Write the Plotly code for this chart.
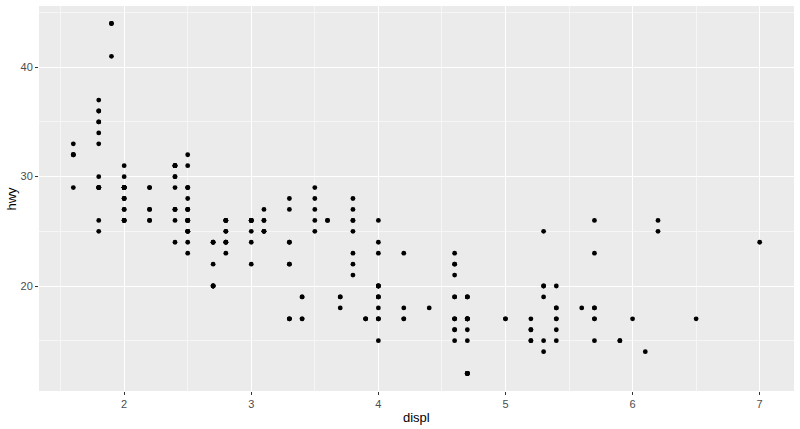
import plotly.graph_objects as go

displ = [1.8,1.8,2.0,2.0,2.8,2.8,3.1,1.8,1.8,2.0,2.0,2.8,2.8,3.1,3.1,2.8,3.1,4.2,
         5.3,5.3,5.3,5.7,6.0,5.7,5.7,6.2,6.2,7.0,5.3,5.3,5.7,6.5,2.4,2.4,3.1,3.5,3.6,
         2.4,3.0,3.3,3.3,3.3,3.3,3.3,3.8,3.8,3.8,4.0,3.7,3.7,3.9,3.9,4.7,4.7,4.7,5.2,5.2,
         3.9,4.7,4.7,4.7,5.2,5.9,4.7,4.7,4.7,4.7,4.7,4.7,5.2,5.2,5.7,5.9,
         4.6,4.6,5.4,4.0,4.0,4.0,4.0,4.6,5.0,4.2,4.2,4.6,4.6,4.6,5.4,5.4,
         3.8,3.8,4.0,4.0,4.6,4.6,4.6,4.6,5.4,
         1.6,1.6,1.6,1.6,1.6,1.8,1.8,1.8,2.0,
         2.4,2.4,2.4,2.4,2.5,2.5,3.3,2.0,2.0,2.0,2.0,2.7,2.7,2.7,
         3.0,3.7,4.0,4.7,4.7,4.7,5.7,6.1,4.0,4.2,4.4,4.6,5.4,5.4,5.4,4.0,4.0,4.6,5.0,
         2.4,2.4,2.5,2.5,3.5,3.5,3.0,3.0,3.5,3.3,3.3,4.0,5.6,3.1,3.8,3.8,3.8,5.3,
         2.5,2.5,2.5,2.5,2.5,2.5,2.2,2.2,2.5,2.5,2.5,2.5,2.5,2.5,
         2.7,2.7,3.4,3.4,4.0,4.7,2.2,2.2,2.4,2.4,3.0,3.0,3.5,2.2,2.2,2.4,2.4,3.0,3.0,3.3,
         1.8,1.8,1.8,1.8,1.8,4.7,5.7,2.7,2.7,2.7,3.4,3.4,4.0,4.0,
         2.0,2.0,2.0,2.0,2.8,1.9,2.0,2.0,2.0,2.0,2.5,2.5,2.8,2.8,1.9,1.9,2.0,2.0,2.5,2.5,
         1.8,1.8,1.8,2.0,2.0,2.8,2.8,3.6]
hwy = [29,29,31,30,26,26,27,26,25,28,27,25,25,25,25,24,25,23,
       20,15,20,17,17,26,23,26,25,24,19,14,15,17,27,30,26,29,26,
       24,24,22,22,24,24,17,22,21,23,23,19,18,17,17,19,19,12,17,15,
       17,17,12,17,16,15,16,12,17,17,12,17,15,16,17,15,
       17,17,18,17,19,17,19,19,17,17,17,16,16,17,15,17,
       26,25,26,24,21,22,23,22,20,
       33,32,32,29,32,34,36,36,29,
       26,27,30,31,26,26,28,26,29,28,27,24,24,24,
       22,19,20,17,12,19,18,14,15,18,18,15,17,16,18,17,19,19,17,
       29,27,31,32,27,26,26,25,25,17,17,20,18,26,26,27,28,25,
       25,24,27,25,26,23,26,26,26,26,27,25,27,25,
       20,20,19,17,20,17,29,27,31,31,26,26,28,27,29,31,31,26,26,27,
       30,33,35,37,35,15,18,20,20,22,17,19,18,20,
       29,26,29,29,24,44,29,26,29,29,29,29,23,24,44,41,29,26,28,29,
       29,29,29,29,28,26,26,26]

x_ticks = [2, 3, 4, 5, 6, 7]
y_ticks = [20, 30, 40]
x_minor = [1.5, 2.5, 3.5, 4.5, 5.5, 6.5]
y_minor = [15, 25, 35, 45]

FONT = "Liberation Sans, Arial"

fig = go.Figure()
fig.add_trace(go.Scatter(
    x=displ, y=hwy, mode="markers",
    marker=dict(color="black", size=4.8, line=dict(width=0)),
    showlegend=False, hoverinfo="x+y"))

def axis(rng, ticks, minor):
    return dict(range=rng, tickvals=ticks, automargin=False,
                showgrid=True, gridcolor="white", gridwidth=1.1,
                minor=dict(showgrid=True, gridcolor="#F6F6F6", gridwidth=0.6, tickvals=minor),
                zeroline=False, showline=False,
                ticks="outside", ticklen=3, tickwidth=1, tickcolor="#333333",
                tickfont=dict(family=FONT, size=11, color="#4D4D4D"))

fig.update_layout(
    width=800, height=429,
    margin=dict(l=39, r=6, t=6, b=38, autoexpand=False),
    paper_bgcolor="white", plot_bgcolor="#EBEBEB",
    xaxis=axis([1.33, 7.27], x_ticks, x_minor),
    yaxis=axis([10.4, 45.6], y_ticks, y_minor),
    annotations=[
        dict(text="displ", xref="paper", yref="paper", x=0.5, y=-0.043,
             xanchor="center", yanchor="top", showarrow=False,
             font=dict(family=FONT, size=13, color="black")),
        dict(text="hwy", xref="paper", yref="paper", x=-0.037, y=0.5,
             xanchor="center", yanchor="middle", textangle=-90, showarrow=False,
             font=dict(family=FONT, size=13, color="black")),
    ])

fig.write_html("out.html", config={"displayModeBar": False},
               post_script="document.body.style.margin='0';document.body.style.overflow='hidden';")
